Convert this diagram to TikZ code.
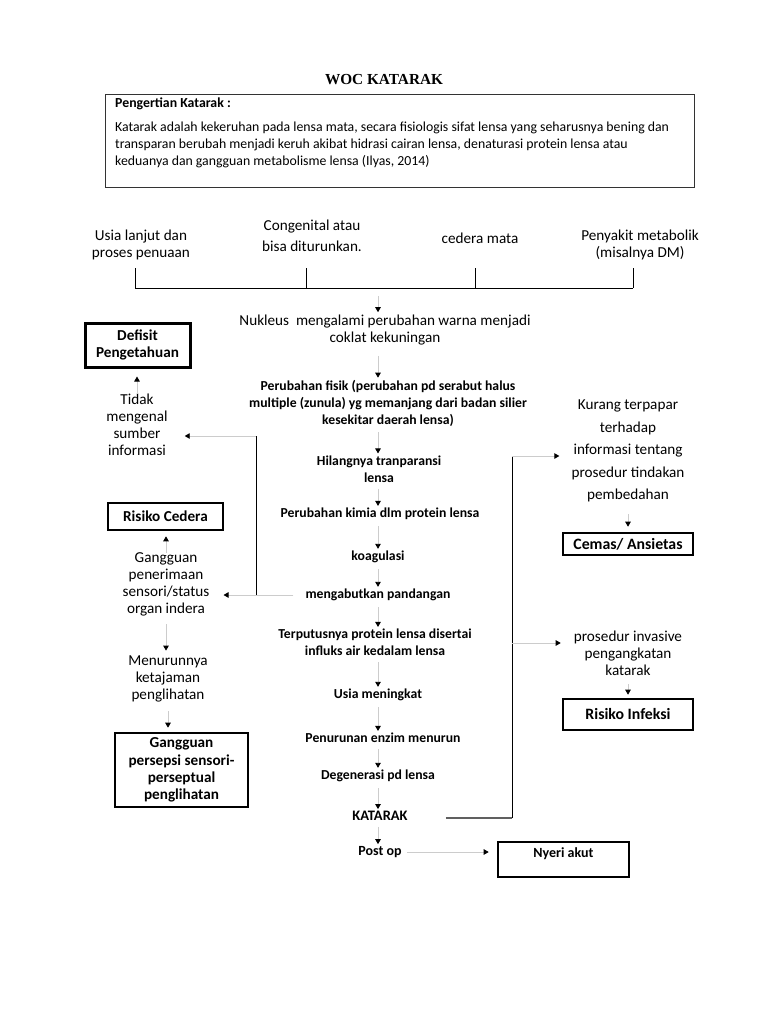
\documentclass[tikz,border=0pt]{standalone}
\usepackage{fontspec}
\setmainfont{Carlito}
\newfontfamily\titlefont{Liberation Serif}
\usetikzlibrary{arrows.meta,calc}
\begin{document}
\begin{tikzpicture}[x=1pt,y=-1pt,
  txt/.style={align=center,inner sep=0pt,font=\fontsize{15.2}{17}\selectfont},
  btxt/.style={align=center,inner sep=0pt,font=\fontsize{13.7}{17}\selectfont\bfseries},
  box/.style={draw,line width=2.6pt,inner sep=0pt,align=center,font=\fontsize{15.2}{17.3}\selectfont\bfseries},
  arr/.style={draw=gray!40,line width=0.9pt,-{Triangle[length=5pt,width=5.5pt,color=black]}},
  carr/.style={arr,shorten <=6pt,shorten >=2pt},
  bline/.style={draw=black,line width=1pt},
  kline/.style={draw=gray!75!black,line width=2pt}
]
\useasboundingbox[fill=white] (0,0) rectangle (768,1024);

% title and definition
\node[font={\titlefont\bfseries\fontsize{15.3}{17}\selectfont}] (title) at (384,80) {WOC KATARAK};
\node[draw=black!80,line width=1pt,minimum width=589pt,minimum height=93pt,inner sep=0pt] (defbox) at (399.5,141.5) {};
\node[anchor=west,inner sep=0pt,font=\fontsize{13.8}{17}\selectfont\bfseries] (defh) at (115,104) {Pengertian Katarak :};
\node[anchor=north west,inner sep=0pt,align=left,font=\fontsize{13.8}{16.8}\selectfont] (deft) at (115,122)
  {Katarak adalah kekeruhan pada lensa mata, secara fisiologis sifat lensa yang seharusnya bening dan\\
   transparan berubah menjadi keruh akibat hidrasi cairan lensa, denaturasi protein lensa atau\\
   keduanya dan gangguan metabolisme lensa (Ilyas, 2014)};

% causes
\node[txt] (c1) at (141,244.5) {Usia lanjut dan\\proses penuaan};
\node[txt,font=\fontsize{15.2}{21}\selectfont] (c2) at (312,235.5) {Congenital atau\\bisa diturunkan.};
\node[txt] (c3) at (480,238) {cedera mata};
\node[txt] (c4) at (640,244.5) {Penyakit metabolik\\(misalnya DM)};

\coordinate (btop) at (0,268);
\coordinate (v1) at (135,288);
\coordinate (v2) at (306,288);
\coordinate (v3) at (475,288);
\coordinate (v4) at (633,288);
\coordinate (bm) at (378,296);
\coordinate (ax) at (378,0);

\draw[bline] (v1 |- btop) -- (v1);
\draw[bline] (v2 |- btop) -- (v2);
\draw[bline] (v3 |- btop) -- (v3);
\draw[bline] (v4 |- btop) -- (v4);
\draw[bline] (v1) -- (v4);

% central chain
\node[txt] (n1) at (385,330.5) {Nukleus\ \ mengalami perubahan warna menjadi\\coklat kekuningan};
\node[btxt] (n2) at (388,403) {Perubahan fisik (perubahan pd serabut halus\\multiple (zunula) yg memanjang dari badan silier\\kesekitar daerah lensa)};
\node[btxt] (n3) at (379,469) {Hilangnya tranparansi\\lensa};
\node[btxt] (n4) at (380,514) {Perubahan kimia dlm protein lensa};
\node[btxt] (n5) at (378,557) {koagulasi};
\node[btxt] (n6) at (378,595) {mengabutkan pandangan};
\node[btxt] (n7) at (375,642.5) {Terputusnya protein lensa disertai\\influks air kedalam lensa};
\node[btxt] (n8) at (378,695) {Usia meningkat};
\node[btxt] (n9) at (383,738) {Penurunan enzim menurun};
\node[btxt] (n10) at (378,776) {Degenerasi pd lensa};
\node[btxt,font=\fontsize{14.5}{17}\selectfont\bfseries] (n11) at (380,816) {KATARAK};
\node[btxt,font=\fontsize{14}{17}\selectfont\bfseries] (n12) at (380,852) {Post op};

\draw[arr,shorten >=3pt] (bm) -- (bm |- n1.north);
\draw[carr,shorten <=10pt] (n1.south -| ax) -- (n2.north -| ax);
\draw[carr] (n2.south -| ax) -- (n3.north -| ax);
\draw[carr] (n3.south -| ax) -- (n4.north -| ax);
\draw[carr] (n4.south -| ax) -- (n5.north -| ax);
\draw[carr] (n5.south -| ax) -- (n6.north -| ax);
\draw[carr] (n6.south -| ax) -- (n7.north -| ax);
\draw[carr] (n7.south -| ax) -- (n8.north -| ax);
\draw[carr] (n8.south -| ax) -- (n9.north -| ax);
\draw[carr] (n9.south -| ax) -- (n10.north -| ax);
\draw[carr] (n10.south -| ax) -- (n11.north -| ax);
\draw[carr] (n11.south -| ax) -- (n12.north -| ax);

% left column
\node[box,line width=3pt,minimum width=105pt,minimum height=44pt] (dp) at (137.5,345) {Defisit\\Pengetahuan};
\node[txt] (tm) at (137,425) {Tidak\\mengenal\\sumber\\informasi};
\node[box,minimum width=115pt,minimum height=27pt] (rc) at (165.5,516.5) {Risiko Cedera};
\node[txt] (gp) at (166,584.5) {Gangguan\\penerimaan\\sensori/status\\organ indera};
\node[txt] (mk) at (168,679) {Menurunnya\\ketajaman\\penglihatan};
\node[box,minimum width=133pt,minimum height=74pt] (gps) at (181.5,770) {Gangguan\\persepsi sensori-\\perseptual\\penglihatan};

\draw[arr,shorten >=8pt] (tm.north) -- (tm.north |- dp.south);
\draw[arr,shorten >=5pt] (gp.north) -- (gp.north |- rc.south);
\draw[arr,shorten <=8pt,shorten >=5pt] (gp.south) -- (gp.south |- mk.north);
\draw[arr,shorten <=9pt,shorten >=4pt] (mk.south) -- (mk.south |- gps.north);

\coordinate (jl1) at (256,436);
\draw[bline] (jl1) -- (jl1 |- n6);
\draw[arr,shorten >=17pt] (jl1) -- (jl1 -| tm.east);
\draw[arr,shorten <=12pt,shorten >=14pt] (n6.west) -- (n6.west -| gp.east);

% right column
\node[txt,font=\fontsize{15.2}{22.5}\selectfont] (kt) at (628,451) {Kurang terpapar\\terhadap\\informasi tentang\\prosedur tindakan\\pembedahan};
\node[box,font=\fontsize{15.8}{17}\selectfont\bfseries,minimum width=130pt,minimum height=22pt] (cm) at (628,544) {Cemas/ Ansietas};
\node[txt] (pi) at (628,653.5) {prosedur invasive\\pengangkatan\\katarak};
\node[box,font=\fontsize{15.8}{17}\selectfont\bfseries,minimum width=130pt,minimum height=31pt] (ri) at (628,714.5) {Risiko Infeksi};
\node[box,font=\fontsize{14}{17}\selectfont\bfseries,text depth=13pt,minimum width=131pt,minimum height=35pt] (ny) at (563.5,859.5) {Nyeri akut};

\draw[arr,shorten <=12pt,shorten >=5pt] (kt.south) -- (kt.south |- cm.north);
\draw[arr,shorten <=8pt,shorten >=3pt] (pi.south) -- (pi.south |- ri.north);

\coordinate (jr1) at (512,456);
\coordinate (jr2) at (512,643);
\coordinate (jb) at (512,818);
\draw[bline] (jb) -- (jr1);
\draw[arr,shorten >=12pt] (jr1) -- (jr1 -| kt.west);
\draw[arr,shorten >=13pt] (jr2) -- (jr2 -| pi.west);
\draw[kline,shorten <=38pt] (n11.east |- jb) -- (jb);
\draw[arr,shorten <=5pt,shorten >=8pt] (n12.east) -- (n12.east -| ny.west);
\end{tikzpicture}
\end{document}
